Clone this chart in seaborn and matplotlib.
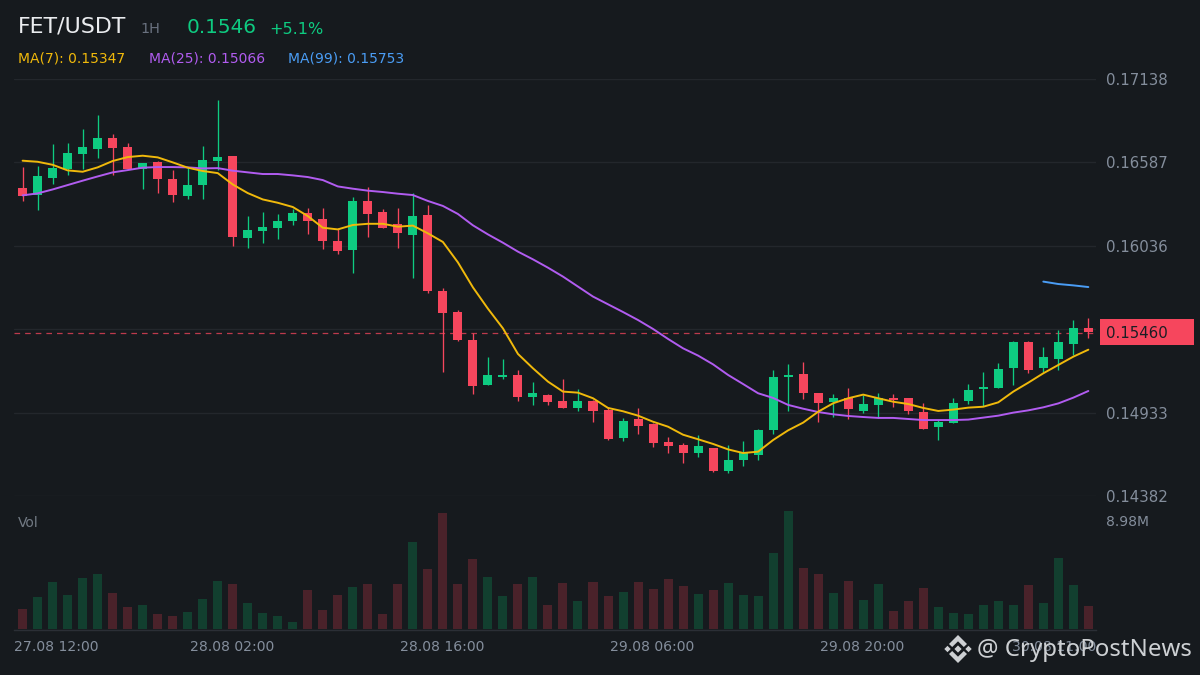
import matplotlib
matplotlib.use("Agg")
import matplotlib.pyplot as plt
import matplotlib.patches as mpatches
from matplotlib.transforms import ScaledTranslation
import numpy as np
import pandas as pd
import seaborn as sns

PRICE_UNIT = 1e-5
opens = [16417,16373,16485,16543,16644,16677,16748,16688,16543,16589,16477,16367,16439,16596,16629,16089,16135,16155,16201,16252,16212,16067,16010,16331,16259,16179,
         16109,16239,15737,15598,15413,15118,15171,15182,15039,15050,15010,14966,15010,14951,14768,14891,14858,14739,14719,14669,14699,14550,14622,
         14653,14818,15169,15188,15063,15003,15030,14944,14984,15030,15030,14937,14838,14865,15010,15089,15096,15228,15400,15228,15287,15387,15492]
highs = [16556,16563,16708,16715,16807,16900,16774,16715,16583,16596,16536,16549,16695,16999,16629,16232,16259,16245,16278,16285,16285,16151,16358,16424,16278,16285,
         16382,16305,15757,15611,15457,15301,15288,15215,15136,15056,15155,15089,15017,14973,14898,14964,14862,14774,14732,14785,14699,14719,14746,
         14825,15215,15254,15268,15063,15056,15096,15050,15063,15056,15030,14997,14884,15030,15122,15202,15261,15406,15406,15367,15479,15545,15558]
lows = [16333,16274,16444,16503,16543,16615,16503,16543,16411,16384,16325,16347,16347,16536,16036,16023,16056,16082,16175,16115,16016,15983,15858,16096,16155,16023,
        15825,15726,15204,15409,15058,15118,15158,15012,14986,14986,14966,14946,14873,14754,14748,14794,14708,14669,14602,14642,14543,14536,14583,
        14620,14792,14944,15023,14871,14904,14891,14931,14898,14970,14924,14825,14752,14865,14990,14977,15096,15116,15195,15202,15215,15314,15426]
closes = [16367,16496,16549,16648,16688,16748,16684,16543,16583,16479,16373,16437,16602,16622,16096,16140,16160,16199,16252,16201,16069,16003,16331,16248,16155,16122,
          16233,15739,15594,15415,15111,15182,15182,15039,15063,15006,14966,15010,14946,14761,14878,14847,14735,14715,14669,14713,14550,14620,14666,
          14818,15169,15182,15063,14997,15030,14957,14990,15030,15017,14944,14825,14871,14997,15083,15102,15221,15400,15215,15301,15400,15492,15466]
ma7 = [16598,16591,16571,16534,16525,16554,16596,16622,16631,16620,16587,16552,16530,16516,16441,16384,16342,16320,16292,16232,16155,16144,16173,16181,16181,16162,
       16169,16118,16061,15926,15761,15620,15490,15321,15226,15138,15072,15065,15028,14964,14942,14913,14873,14840,14787,14757,14726,14690,14666,
       14675,14752,14816,14867,14939,14995,15028,15052,15028,15005,14990,14964,14944,14953,14966,14972,15001,15072,15131,15193,15248,15303,15349]
ma25 = [16369,16382,16408,16437,16466,16494,16521,16536,16552,16556,16556,16554,16547,16549,16532,16521,16510,16510,16501,16490,16470,16428,16413,16400,16391,16380,
        16371,16332,16299,16246,16171,16111,16056,15997,15946,15891,15832,15766,15700,15649,15598,15545,15486,15420,15358,15310,15252,15182,15122,
        15061,15030,14984,14959,14937,14922,14911,14904,14898,14898,14891,14884,14884,14884,14887,14900,14913,14933,14948,14968,14994,15032,15076]
ma99_index = [68, 69, 70, 71]
ma99 = [15799, 15783, 15774, 15763]
volumes = [1.65,2.64,3.87,2.80,4.20,4.53,2.97,1.81,1.98,1.24,1.07,1.40,2.47,3.95,3.71,2.14,1.32,1.07,0.58,3.21,1.57,2.80,3.46,3.71,1.24,3.71,
           7.17,4.94,9.56,3.71,5.77,4.28,2.72,3.71,4.28,1.98,3.79,2.31,3.87,
           2.72,3.05,3.87,3.30,4.12,3.54,2.88,3.21,3.79,2.80,2.72,6.26,9.72,5.03,4.53,2.97,3.95,2.39,3.71,1.48,2.31,3.38,1.81,1.32,1.24,1.98,2.31,1.98,3.62,2.14,5.85,3.62,1.89]
price_ticks = [0.17138, 0.16587, 0.16036, 0.15485, 0.14933, 0.14382]
price_labels = ["0.17138", "0.16587", "0.16036", "", "0.14933", "0.14382"]
time_ticks = [0, 14, 28, 42, 56, 71]
time_labels = ["27.08 12:00", "28.08 02:00", "28.08 16:00", "29.08 06:00", "29.08 20:00", "30.08 11:00"]
last_price = 0.15460
vol_tick = 8.98

BG = "#161A1E"; GRID = "#23272C"; UP = "#0ECB81"; DOWN = "#F6465D"
UP_VOL = "#123F2F"; DOWN_VOL = "#4A222A"; MUTED = "#848E9C"
MA7_C = "#F0B90B"; MA25_C = "#B15CF0"; MA99_C = "#4A9DF5"; MARK = "#CDD0D3"

sns.set_theme(style="dark", rc={"figure.facecolor": BG, "axes.facecolor": BG, "savefig.facecolor": BG})
plt.rcParams["font.family"] = ["DejaVu Sans"]

W, H = 1200, 675
fig = plt.figure(figsize=(12, 6.75), dpi=100)
def box(l, t, r, b):
    return [l / W, (H - b) / H, (r - l) / W, (b - t) / H]
ax = fig.add_axes(box(14, 79, 1096, 496))
axv = fig.add_axes(box(14, 500, 1096, 630), sharex=ax)

df = pd.DataFrame({"i": np.arange(len(opens)), "open": opens, "high": highs, "low": lows, "close": closes,
                   "ma7": ma7, "ma25": ma25, "vol": volumes})
for c in ["open", "high", "low", "close", "ma7", "ma25"]:
    df[c] = df[c] * PRICE_UNIT
df["dir"] = np.where(df["close"] >= df["open"], "up", "down")
colors = df["dir"].map({"up": UP, "down": DOWN})

ax.hlines(last_price, -0.573, 71.51, color=DOWN, lw=0.9, linestyles=(0, (4.5, 4)), alpha=0.75, zorder=1.5)
wicks = ax.vlines(df["i"], df["low"], df["high"], colors=colors, lw=0.95, zorder=2)
wicks.set_snap(True)
ax.bar(df["i"], (df["close"] - df["open"]).abs(), bottom=df[["open", "close"]].min(axis=1), width=0.6, color=colors, lw=0, zorder=3)

sns.lineplot(data=df, x="i", y="ma25", ax=ax, color=MA25_C, lw=1.4, sort=False, zorder=4, legend=False)
sns.lineplot(data=df, x="i", y="ma7", ax=ax, color=MA7_C, lw=1.4, sort=False, zorder=5, legend=False)
sns.lineplot(x=ma99_index, y=np.array(ma99) * PRICE_UNIT, ax=ax, color=MA99_C, lw=1.4, sort=False, zorder=4, legend=False)

sns.barplot(data=df, x="i", y="vol", hue="dir", palette={"up": UP_VOL, "down": DOWN_VOL}, native_scale=True,
            dodge=False, width=0.6, ax=axv, legend=False, errorbar=None, linewidth=0, saturation=1)

ax.set_ylim(0.14382, 0.17138)
ax.set_xlim(-0.573, 71.51)
ax.set_yticks(price_ticks, price_labels)
ax.yaxis.tick_right()
ax.tick_params(axis="y", length=0, pad=7, labelsize=10.8, labelcolor=MUTED)
ax.tick_params(axis="x", length=0, labelbottom=False)
ax.grid(axis="y", color=GRID, lw=1)
ax.grid(axis="x", visible=False)
ax.set_axisbelow(True)
ax.set_xlabel(""); ax.set_ylabel("")
for s in ax.spines.values():
    s.set_visible(False)

axv.set_ylim(-0.0824, 10.63)
axv.set_yticks([vol_tick], ["8.98M"])
axv.yaxis.tick_right()
axv.tick_params(axis="y", length=0, pad=7, labelsize=10, labelcolor=MUTED)
axv.grid(False)
axv.set_xlabel(""); axv.set_ylabel("")
for k, s in axv.spines.items():
    s.set_visible(k == "bottom")
    s.set_color("#2B2F36"); s.set_linewidth(1)
axv.set_xticks(time_ticks, time_labels)
axv.set_xlim(-0.573, 71.51)
axv.tick_params(axis="x", length=0, pad=7.5, labelsize=10.1, labelcolor=MUTED)
labs = axv.get_xticklabels()
labs[0].set_ha("left")
labs[0].set_transform(labs[0].get_transform() + ScaledTranslation(-8.6 / 100, 0, fig.dpi_scale_trans))
labs[-1].set_ha("right")
labs[-1].set_transform(labs[-1].get_transform() + ScaledTranslation(7.7 / 100, 0, fig.dpi_scale_trans))
for lab in labs[1:-1]:
    lab.set_transform(lab.get_transform() + ScaledTranslation(-1 / 100, 0, fig.dpi_scale_trans))

def ftext(x, y, s, **kw):
    kw.setdefault("va", "center")
    return fig.text(x / W, 1 - y / H, s, **kw)

ftext(18, 27, "FET/USDT", fontsize=15.9, color="#EAECEF")
ftext(140, 29, "1H", fontsize=10.4, color="#6A7280")
ftext(187, 27.5, "0.1546", fontsize=14.4, color=UP)
ftext(269, 29, "+5.1%", fontsize=11.5, color=UP)
ftext(18, 58, "MA(7): 0.15347", fontsize=10, color=MA7_C)
ftext(149, 58, "MA(25): 0.15066", fontsize=10, color=MA25_C)
ftext(288, 58, "MA(99): 0.15753", fontsize=10, color=MA99_C)
ftext(18, 523, "Vol", fontsize=10, color="#727A84")

# last-price tag
fig.add_artist(mpatches.Rectangle((1100 / W, 1 - 345 / H), 94 / W, 26 / H, transform=fig.transFigure, color=DOWN, lw=0, zorder=6))
ftext(1106, 333, "0.15460", fontsize=10.8, color="#1B1E24", zorder=7)

# watermark
ftext(977, 649.5, "@ CryptoPostNews", fontsize=17.3, color=MARK, family="Noto Sans", zorder=8)
def poly(points):
    pts = [(x / W, 1 - y / H) for x, y in points]
    fig.add_artist(mpatches.Polygon(pts, closed=True, transform=fig.transFigure, color=MARK, lw=0, zorder=8))
def diamond(cx, cy, r):
    poly([(cx, cy - r), (cx + r, cy), (cx, cy + r), (cx - r, cy)])
diamond(958, 649, 3.6)
diamond(947.5, 649, 3.2)
diamond(968.5, 649, 3.2)
poly([(958, 635), (967, 644), (963.8, 647), (958, 641.3), (952.2, 647), (949, 644)])
poly([(958, 663), (967, 654), (963.8, 651), (958, 656.7), (952.2, 651), (949, 654)])

fig.savefig("out.png", dpi=100, facecolor=BG)
